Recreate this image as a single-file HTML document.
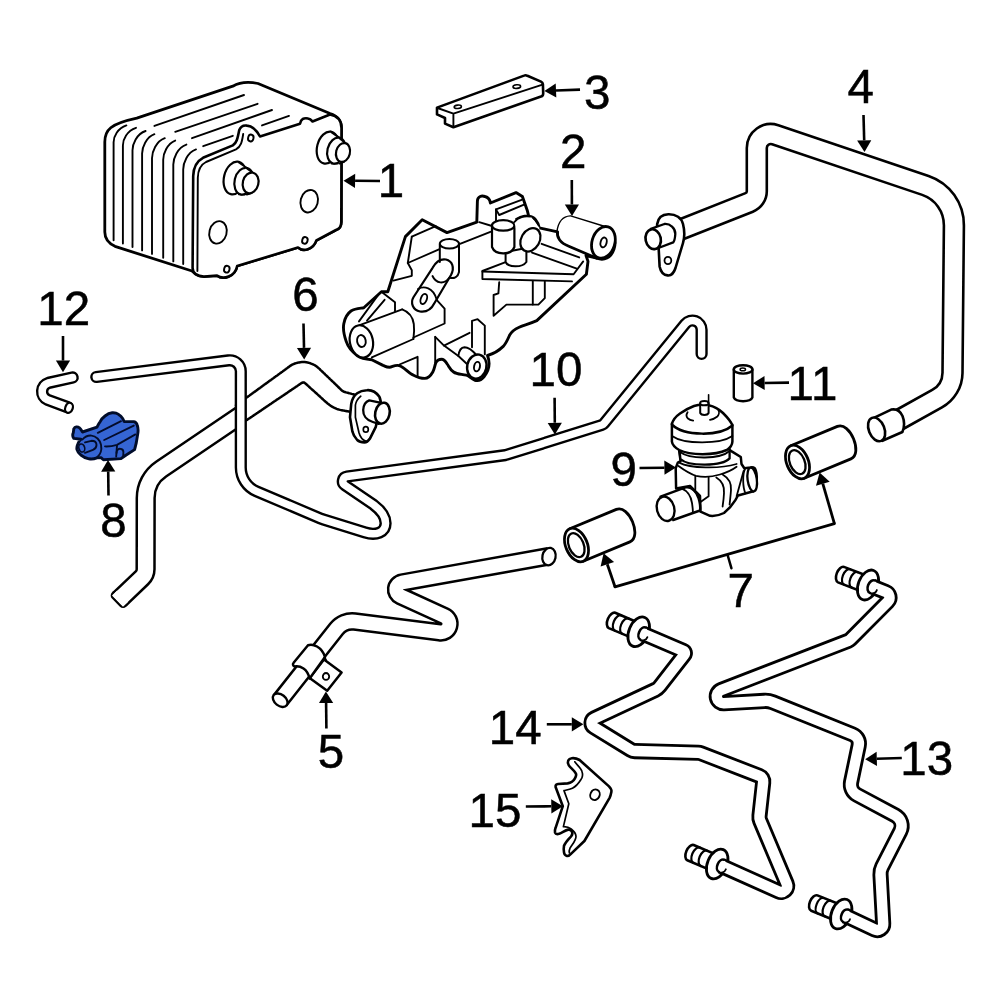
<!DOCTYPE html>
<html><head><meta charset="utf-8"><title>Diagram</title>
<style>
html,body{margin:0;padding:0;background:#fff;}
svg{display:block}
text{font-family:"Liberation Sans",sans-serif;fill:#000}
</style></head><body>
<svg width="1000" height="1000" viewBox="0 0 1000 1000">
<defs><filter id="soft" filterUnits="userSpaceOnUse" x="0" y="0" width="1000" height="1000"><feGaussianBlur stdDeviation="0.4"/></filter></defs>
<rect width="1000" height="1000" fill="#fff"/>
<g filter="url(#soft)">
<path d="M104.8 142 C104.8 130 110 124 136.8 118.2 L232.8 86.2 C240 82 248 81.5 258 83.5 L330 113.5 C338 116 341.5 120 341.5 128 L341.3 222 C341.3 227 339.5 229 336 230 L316.4 240.4 C313 250 303 252 298 247.5 L237.2 266 C235 277 223 280 217 275.6 L204 276.5 C198 276.5 195 274 192 271 L115 246.3 C108 243 104.8 239 104.8 232 Z" fill="#fff" stroke="#000" stroke-width="2.8" stroke-linejoin="round" stroke-linecap="round" /><path d="M126.4 125.4 C117.6 128.4 113.6 136.2 113.6 142.2 L113.6 240.3" fill="none" stroke="#000" stroke-width="1.9" stroke-linejoin="round" stroke-linecap="round" /><path d="M136 127.8 C126.9 130.8 122.9 139.4 122.9 145.4 L122.9 243.6" fill="none" stroke="#000" stroke-width="1.9" stroke-linejoin="round" stroke-linecap="round" /><path d="M145.6 131 C136.5 134 132.5 144.2 132.5 150.2 L132.5 247" fill="none" stroke="#000" stroke-width="1.9" stroke-linejoin="round" stroke-linecap="round" /><path d="M154.4 134.2 C146.1 137.2 142.1 147.4 142.1 153.4 L142.1 250.39999999999998" fill="none" stroke="#000" stroke-width="1.9" stroke-linejoin="round" stroke-linecap="round" /><path d="M164.8 138.2 C156 141.2 152 152.2 152 158.2 L152 253.89999999999998" fill="none" stroke="#000" stroke-width="1.9" stroke-linejoin="round" stroke-linecap="round" /><path d="M175.2 140.6 C167.2 143.6 163.2 153.8 163.2 159.8 L163.2 257.8" fill="none" stroke="#000" stroke-width="1.9" stroke-linejoin="round" stroke-linecap="round" /><path d="M186.4 144.6 C177.3 147.6 173.3 158.6 173.3 164.6 L173.3 261.4" fill="none" stroke="#000" stroke-width="1.9" stroke-linejoin="round" stroke-linecap="round" /><path d="M196 149.4 C187.2 152.4 183.2 163.4 183.2 169.4 L183.2 264.0" fill="none" stroke="#000" stroke-width="1.9" stroke-linejoin="round" stroke-linecap="round" /><path d="M154.4 125.9L244 95" fill="none" stroke="#000" stroke-width="1.9" stroke-linejoin="round" stroke-linecap="round" /><path d="M175.2 131.8L257.6 103.8" fill="none" stroke="#000" stroke-width="1.9" stroke-linejoin="round" stroke-linecap="round" /><path d="M192 138.2L272 110" fill="none" stroke="#000" stroke-width="1.9" stroke-linejoin="round" stroke-linecap="round" /><path d="M203.2 146.2L232.8 135.8" fill="none" stroke="#000" stroke-width="1.9" stroke-linejoin="round" stroke-linecap="round" /><path d="M262 125.4L289 115.9" fill="none" stroke="#000" stroke-width="1.9" stroke-linejoin="round" stroke-linecap="round" /><path d="M192.6 268 L193.2 176 C193.5 166 197 161 203 157.8 L232.8 145.4 C236.5 143 237.5 139 239.2 130.2 C240.5 126.5 244 125.2 247 125.6 C252 126 256 129 260 136.5 L300 123.7 C301 119 304 117.5 308 118.5 C311 119 312 121 312.5 121.5 L330 114.5 C338 116 341.5 120 341.5 128 L341.3 222 C341.3 227 339.5 229 336 230 L316.4 240.4 C313 250 303 252 298 247.5 L237.2 266 C235 277 223 280 217 275.6 L204 276.5 C197 276.5 192.6 273 192.6 268Z" fill="#fff" stroke="#000" stroke-width="2.6" stroke-linejoin="round" stroke-linecap="round" /><path d="M197.4 271 L197.8 178 C198 169 201 164.5 206 162 L236 149.4 C241 146.5 242 142 243.2 134" fill="none" stroke="#000" stroke-width="1.9" stroke-linejoin="round" stroke-linecap="round" /><ellipse cx="250.8" cy="138" rx="2.7" ry="3.4" transform="rotate(15 250.8 138)" fill="#fff" stroke="#000" stroke-width="1.9"/><ellipse cx="304.9" cy="240.4" rx="2.7" ry="3.4" transform="rotate(15 304.9 240.4)" fill="#fff" stroke="#000" stroke-width="1.9"/><ellipse cx="226.8" cy="269.2" rx="2.7" ry="3.4" transform="rotate(15 226.8 269.2)" fill="#fff" stroke="#000" stroke-width="1.9"/><ellipse cx="309.2" cy="201.2" rx="8.6" ry="11.4" transform="rotate(15 309.2 201.2)" fill="#fff" stroke="#000" stroke-width="1.9"/><ellipse cx="218" cy="232.4" rx="8.6" ry="11.4" transform="rotate(15 218 232.4)" fill="#fff" stroke="#000" stroke-width="1.9"/><ellipse cx="234.8" cy="178" rx="10.8" ry="16.6" transform="rotate(14 234.8 178)" fill="#fff" stroke="#000" stroke-width="2.1999999999999997"/><path d="M237.3 161.70000000000002 L246.8 167.6 L246.8 194.79999999999998 L238.8 194.1Z" fill="#fff" stroke="none" stroke-width="0" stroke-linejoin="round" stroke-linecap="round" /><path d="M237.8 161.70000000000002 L247.3 168.2" fill="none" stroke="#000" stroke-width="1.9" stroke-linejoin="round" stroke-linecap="round" /><path d="M238.8 194.29999999999998 L244.8 194.49999999999997" fill="none" stroke="#000" stroke-width="1.9" stroke-linejoin="round" stroke-linecap="round" /><ellipse cx="243.8" cy="181.2" rx="9.2" ry="13.6" transform="rotate(14 243.8 181.2)" fill="#fff" stroke="#000" stroke-width="2.1999999999999997"/><path d="M245.8 167.9 L252.6 172.4 L252.6 193.4 L246.8 194.29999999999998Z" fill="#fff" stroke="none" stroke-width="0" stroke-linejoin="round" stroke-linecap="round" /><path d="M246.3 167.9 L253.1 172.9" fill="none" stroke="#000" stroke-width="1.9" stroke-linejoin="round" stroke-linecap="round" /><path d="M246.8 194.49999999999997 L251.6 193.1" fill="none" stroke="#000" stroke-width="1.9" stroke-linejoin="round" stroke-linecap="round" /><ellipse cx="250.6" cy="182.9" rx="7.8" ry="10.5" transform="rotate(14 250.6 182.9)" fill="#fff" stroke="#000" stroke-width="2.1999999999999997"/><ellipse cx="327.6" cy="147.6" rx="10.5" ry="16.3" transform="rotate(14 327.6 147.6)" fill="#fff" stroke="#000" stroke-width="2.1999999999999997"/><path d="M330.1 131.6 L339.4 137.5 L339.4 163.89999999999998 L331.6 163.4Z" fill="#fff" stroke="none" stroke-width="0" stroke-linejoin="round" stroke-linecap="round" /><path d="M330.6 131.6 L339.9 138.1" fill="none" stroke="#000" stroke-width="1.9" stroke-linejoin="round" stroke-linecap="round" /><path d="M331.6 163.6 L337.4 163.59999999999997" fill="none" stroke="#000" stroke-width="1.9" stroke-linejoin="round" stroke-linecap="round" /><ellipse cx="336.4" cy="150.7" rx="9" ry="13.2" transform="rotate(14 336.4 150.7)" fill="#fff" stroke="#000" stroke-width="2.1999999999999997"/><path d="M338.4 137.8 L345 142.9 L345 162.1 L339.4 163.39999999999998Z" fill="#fff" stroke="none" stroke-width="0" stroke-linejoin="round" stroke-linecap="round" /><path d="M338.9 137.8 L345.5 143.4" fill="none" stroke="#000" stroke-width="1.9" stroke-linejoin="round" stroke-linecap="round" /><path d="M339.4 163.59999999999997 L344 161.79999999999998" fill="none" stroke="#000" stroke-width="1.9" stroke-linejoin="round" stroke-linecap="round" /><ellipse cx="343" cy="152.5" rx="6.9" ry="9.6" transform="rotate(14 343 152.5)" fill="#fff" stroke="#000" stroke-width="2.1999999999999997"/>
<path d="M422.2 219.8 L447 232.6 L476.8 222.2 L477.4 201 C477.6 196 482 195.5 485 196.5 C489 197.5 490 200 490.4 203 L516 192.6 L522.4 196.6 L527.2 210.2 L528.8 216.6 C534 216 538 222 539.2 227.8 L557.6 231.8 C559 222 563 217 570.4 216.6 L604 227 C613 230 617 240 614 249 C611 258 604 261 596.8 258.2 L586 255.5 L588 261.4 L586.4 274.2 L536.8 320.6 C528 324.5 524 325 519.2 327.2 C514 329.5 511.5 331.5 509.6 335.2 C507.5 340 506 343.5 503.2 346.4 C499 350.5 495 353.5 487.5 355.5 C490 362 489.5 370 484 376.8 C481 380.5 477.5 381 474.4 380 C471 378.5 469.5 376 466.4 375.2 C461 374 457 374.5 453.6 372 C450 369.5 449 366.5 447.2 364 C445 360.5 443.5 359.2 441.6 359.2 C438.5 359.2 437 360.5 436 362.4 C434.5 366 434.5 369 432.8 372 C430.5 376 428 378.4 424.8 378.4 C419 378.4 416 376.5 412 374.4 C407 371.5 404 367 399.2 365.6 C395 364.5 392 367.2 389.6 367.2 C386 367.2 385 366 383 365.4 L371.8 359.8 C364 359 360.5 358 357.4 355.8 C351 351 348 347 346.2 341.4 C344 335 342.8 329 343.8 323.8 C345 317 347.5 313.5 351 311 C355 308.5 359 308.5 363.8 307.8 L381.4 291.8 L387.8 291.8 L405.4 236.6 Z" fill="#fff" stroke="#000" stroke-width="2.9" stroke-linejoin="round" stroke-linecap="round" /><path d="M411.8 236.6L435.8 226.2" fill="none" stroke="#000" stroke-width="1.9" stroke-linejoin="round" stroke-linecap="round" /><path d="M411.8 236.6L407.8 263L411.8 270.2L411.8 275.8L393.4 280.6" fill="none" stroke="#000" stroke-width="1.9" stroke-linejoin="round" stroke-linecap="round" /><path d="M407.8 263L439 249.4" fill="none" stroke="#000" stroke-width="1.9" stroke-linejoin="round" stroke-linecap="round" /><path d="M381.4 291.8L395 302.2L395 311" fill="none" stroke="#000" stroke-width="1.9" stroke-linejoin="round" stroke-linecap="round" /><path d="M359 321.4L378.2 295" fill="none" stroke="#000" stroke-width="1.9" stroke-linejoin="round" stroke-linecap="round" /><path d="M367 320.6L384.6 299.8" fill="none" stroke="#000" stroke-width="1.9" stroke-linejoin="round" stroke-linecap="round" /><path d="M359 325.4L402.2 309.4" fill="none" stroke="#000" stroke-width="1.9" stroke-linejoin="round" stroke-linecap="round" /><path d="M371.8 357.4L413.4 339" fill="none" stroke="#000" stroke-width="1.9" stroke-linejoin="round" stroke-linecap="round" /><path d="M402.2 309.4C409 312 413 318 413.8 324C414.5 330 414 335 413.4 339" fill="none" stroke="#000" stroke-width="1.9" stroke-linejoin="round" stroke-linecap="round" /><path d="M435 298.2L444.6 308.6L444.6 323.5L413.4 337.5" fill="none" stroke="#000" stroke-width="1.9" stroke-linejoin="round" stroke-linecap="round" /><path d="M399.5 364.5L417.6 356.8L417.6 376" fill="none" stroke="#000" stroke-width="1.9" stroke-linejoin="round" stroke-linecap="round" /><path d="M435.2 337L435.2 362.4" fill="none" stroke="#000" stroke-width="1.9" stroke-linejoin="round" stroke-linecap="round" /><path d="M435.2 336.8L444 345.6L458.4 356" fill="none" stroke="#000" stroke-width="1.9" stroke-linejoin="round" stroke-linecap="round" /><path d="M444 345.6L469.6 332.8" fill="none" stroke="#000" stroke-width="1.9" stroke-linejoin="round" stroke-linecap="round" /><path d="M472 347.2L472 320.8L477.6 319.2L484.8 325.6L484.8 354.4" fill="none" stroke="#000" stroke-width="1.9" stroke-linejoin="round" stroke-linecap="round" /><path d="M496 221.4L496 209.4L521.6 199.8" fill="none" stroke="#000" stroke-width="1.9" stroke-linejoin="round" stroke-linecap="round" /><path d="M496 209.4L499.2 215L524 204.6" fill="none" stroke="#000" stroke-width="1.9" stroke-linejoin="round" stroke-linecap="round" /><path d="M479.2 222.2L492 226" fill="none" stroke="#000" stroke-width="1.9" stroke-linejoin="round" stroke-linecap="round" /><path d="M447 243.8L460 243.8L490.4 231.8" fill="none" stroke="#000" stroke-width="1.9" stroke-linejoin="round" stroke-linecap="round" /><path d="M505.6 262.2L482.4 271L482.4 279L572 281.4" fill="none" stroke="#000" stroke-width="1.9" stroke-linejoin="round" stroke-linecap="round" /><path d="M482.4 271.5L573.6 274.2L583.2 261.4" fill="none" stroke="#000" stroke-width="1.9" stroke-linejoin="round" stroke-linecap="round" /><path d="M541.6 243.8L579.2 257.4" fill="none" stroke="#000" stroke-width="1.9" stroke-linejoin="round" stroke-linecap="round" /><path d="M532 252.6L576.8 268.6" fill="none" stroke="#000" stroke-width="1.9" stroke-linejoin="round" stroke-linecap="round" /><path d="M499.2 282.2L498.4 293.4L493.6 295L493.6 315.8L506.4 304.6L538.4 304.6L544.8 298.2L544.8 281.4" fill="none" stroke="#000" stroke-width="1.9" stroke-linejoin="round" stroke-linecap="round" /><path d="M532.8 281.4L532.8 304.6" fill="none" stroke="#000" stroke-width="1.9" stroke-linejoin="round" stroke-linecap="round" /><path d="M516 219C522 215 528 215 530.4 216.6" fill="none" stroke="#000" stroke-width="1.9" stroke-linejoin="round" stroke-linecap="round" /><ellipse cx="361.4" cy="341.4" rx="11.5" ry="16.3" transform="rotate(-12 361.4 341.4)" fill="#fff" stroke="#000" stroke-width="2.2"/><ellipse cx="361.4" cy="341" rx="4.3" ry="6" transform="rotate(-10 361.4 341)" fill="#fff" stroke="#000" stroke-width="1.9"/><path d="M432.6 267.8L413.6 297C410 303 413 310 420 311.5C427 312.5 432 308 434.5 303L451 275C455 267 452 261 446 259.5C440 258.5 435.5 262.5 432.6 267.8Z" fill="#fff" stroke="#000" stroke-width="2.2" stroke-linejoin="round" stroke-linecap="round" /><path d="M432.5 276C436 283.5 444 285 449.5 277.5" fill="none" stroke="#000" stroke-width="1.9" stroke-linejoin="round" stroke-linecap="round" /><path d="M418 289C424 285.5 433 287.5 436.5 299" fill="none" stroke="#000" stroke-width="1.9" stroke-linejoin="round" stroke-linecap="round" /><ellipse cx="423.8" cy="299" rx="3" ry="5.3" transform="rotate(20 423.8 299)" fill="#fff" stroke="#000" stroke-width="1.9"/><path d="M439.8 244.6L439.8 262M459 244.6L459 272C458 277 454 278.5 450.5 278" fill="none" stroke="#000" stroke-width="2.0" stroke-linejoin="round" stroke-linecap="round" /><ellipse cx="449.4" cy="243.8" rx="9.6" ry="4.8" transform="rotate(0 449.4 243.8)" fill="#fff" stroke="#000" stroke-width="2.0"/><path d="M505.6 252L505.6 262C508 267.5 522 268 526.4 262L526.4 248Z" fill="#fff" stroke="#000" stroke-width="2.0" stroke-linejoin="round" stroke-linecap="round" /><path d="M492 225.4L492 247C495 255 511 256 514.4 247L514.4 225.4Z" fill="#fff" stroke="#000" stroke-width="2.2" stroke-linejoin="round" stroke-linecap="round" /><ellipse cx="503.2" cy="225.4" rx="11.2" ry="5.3" transform="rotate(0 503.2 225.4)" fill="#fff" stroke="#000" stroke-width="2.2"/><path d="M514.4 222C518 217 526 215.5 531 217L539.5 228L533 250L520 245Z" fill="#fff" stroke="none" stroke-width="0" stroke-linejoin="round" stroke-linecap="round" /><path d="M514.4 222C518 217 525 215.5 530.4 216.6" fill="none" stroke="#000" stroke-width="2.0" stroke-linejoin="round" stroke-linecap="round" /><ellipse cx="530.4" cy="239.8" rx="9.2" ry="12.4" transform="rotate(30 530.4 239.8)" fill="#fff" stroke="#000" stroke-width="2.2"/><path d="M570.4 216.6 L604 227 L596.8 258.2 L568.8 246.2 C560 243 556.5 237 557.6 231.8 C559 222 563 217 570.4 216.6Z" fill="#fff" stroke="none" stroke-width="0" stroke-linejoin="round" stroke-linecap="round" /><path d="M596.8 258.2 L568.8 246.2 C560 243 556.5 237 557.6 231.8" fill="none" stroke="#000" stroke-width="2.8" stroke-linejoin="round" stroke-linecap="round" /><ellipse cx="603.4" cy="242.4" rx="11.4" ry="16.2" transform="rotate(17 603.4 242.4)" fill="#fff" stroke="#000" stroke-width="2.8"/><ellipse cx="603.6" cy="242.4" rx="3" ry="5" transform="rotate(15 603.6 242.4)" fill="#fff" stroke="#000" stroke-width="1.9"/><path d="M458.4 356C459 350.5 461.5 347.4 464.5 347.2C468.5 347.2 472.5 350.5 476.5 355L467.5 364.5Z" fill="#fff" stroke="#000" stroke-width="1.9" stroke-linejoin="round" stroke-linecap="round" /><ellipse cx="476.8" cy="366.6" rx="9.6" ry="12.2" transform="rotate(12 476.8 366.6)" fill="#fff" stroke="#000" stroke-width="2.4"/><ellipse cx="477" cy="366.6" rx="2.9" ry="4.8" transform="rotate(12 477 366.6)" fill="#fff" stroke="#000" stroke-width="1.9"/>
<path d="M437 107.6L524 75.6C525.2 75.1 526.3 75.2 527.4 75.8L541 81.6C542.4 82.3 542.8 83 542.9 84.2L543.2 93.4C543.2 95 542.5 96 541 96.6L453.4 127.2L445 123.6L445 118L437 114.4Z" fill="#fff" stroke="#000" stroke-width="2.6" stroke-linejoin="round" stroke-linecap="round" /><path d="M437.5 108L453.4 113.6L541.8 84.8M453.4 113.6L453.4 127" fill="none" stroke="#000" stroke-width="1.9" stroke-linejoin="round" stroke-linecap="round" /><ellipse cx="457.8" cy="106.8" rx="3.6" ry="1.7" transform="rotate(-5 457.8 106.8)" fill="#fff" stroke="#000" stroke-width="1.6"/><ellipse cx="516.8" cy="86.6" rx="3.8" ry="1.8" transform="rotate(-5 516.8 86.6)" fill="#fff" stroke="#000" stroke-width="1.6"/>
<path d="M246.4 420.3L247.1 419.8L247.8 419.4L248.4 418.9L249.1 418.5L249.8 418.1L250.4 417.6L251.1 417.2L251.8 416.7L252.4 416.3L253.1 415.8L253.8 415.4L254.4 414.9L255.1 414.5L255.7 414.0L256.4 413.6L257.1 413.1L257.7 412.7L258.4 412.2L259.1 411.8L259.7 411.3L260.4 410.9L261.1 410.4L261.7 410.0L262.4 409.5L263.1 409.1L263.7 408.6L264.4 408.2L265.0 407.7L265.7 407.3L266.4 406.8L267.0 406.4L267.7 405.9L268.4 405.5L269.0 405.0L269.7 404.6L270.4 404.1L271.0 403.7L271.7 403.2L272.3 402.8L273.0 402.3L273.7 401.9L274.3 401.4L275.0 401.0L275.7 400.5L276.3 400.1L277.0 399.6L277.7 399.2L278.3 398.8L279.0 398.3L279.7 397.9L280.3 397.4L281.0 397.0L281.6 396.5L282.3 396.1L283.0 395.6L283.6 395.2L284.3 394.7L285.0 394.3L285.6 393.8L286.3 393.4L287.0 392.9L287.6 392.5L288.3 392.0L288.9 391.6L289.6 391.1L290.3 390.7L290.9 390.2L291.6 389.8L292.3 389.3L292.9 388.9L293.6 388.4L294.3 388.0L294.9 387.5L295.6 387.1L296.3 386.6L296.9 386.2L297.6 385.7L298.2 385.3L298.9 384.8L299.6 384.4L300.2 383.9L300.9 383.5L301.4 383.1L301.7 383.0L301.9 382.9L302.0 382.8L302.2 382.8L302.3 382.7L302.5 382.6L302.7 382.6L302.8 382.6L303.0 382.5L303.2 382.5L303.3 382.5L303.5 382.5L303.7 382.5L303.8 382.6L304.0 382.6L304.2 382.6L304.4 382.7L304.5 382.8L304.7 382.9L304.8 383.0L305.0 383.1L305.3 383.4L305.1 383.2L305.7 383.7L306.3 384.3L306.9 384.8L307.5 385.3L308.1 385.9L308.7 386.4L309.3 387.0L309.9 387.5L310.5 388.1L311.1 388.6L311.7 389.2L312.3 389.7L312.9 390.3L313.6 390.8L314.2 391.4L314.8 391.9L315.4 392.5L316.0 393.0L316.6 393.5L317.2 394.1L317.8 394.6L318.4 395.2L319.0 395.7L319.6 396.3L320.2 396.8L320.8 397.4L321.4 397.9L322.0 398.5L322.6 399.0L323.2 399.6L323.8 400.1L324.4 400.7L325.0 401.2L325.6 401.7L326.2 402.2L326.9 402.8L327.5 403.4L328.4 404.1L329.3 404.8L330.3 405.5L331.3 406.2L332.4 406.8L333.4 407.4L334.5 407.9L335.6 408.4L336.7 408.9L337.8 409.3L339.0 409.6L340.2 409.9L341.1 410.1L341.3 410.2L342.1 410.3L342.9 410.4L343.7 410.6L344.5 410.7L345.3 410.9L346.1 411.0L346.9 411.2L347.7 411.3L348.5 411.5L349.3 411.6L350.1 411.8L350.9 411.9L351.7 412.1L352.5 412.2L353.3 412.3L354.1 412.5L357.9 395.5L357.1 395.3L356.3 395.1L355.5 394.9L354.7 394.7L354.0 394.5L353.2 394.3L352.4 394.1L351.6 393.9L350.8 393.6L350.0 393.4L349.2 393.2L348.5 393.0L347.7 392.8L346.9 392.6L346.1 392.4L345.3 392.2L345.5 392.2L344.9 392.1L344.5 391.9L344.1 391.8L343.7 391.6L343.3 391.4L342.9 391.2L342.5 390.9L342.2 390.7L341.8 390.4L341.5 390.2L341.2 389.9L340.9 389.6L340.5 389.2L340.0 388.7L339.4 388.1L338.8 387.5L338.3 387.0L337.7 386.4L337.1 385.8L336.5 385.3L335.9 384.7L335.3 384.1L334.8 383.6L334.2 383.0L333.6 382.4L333.0 381.9L332.4 381.3L331.8 380.8L331.2 380.2L330.6 379.6L330.0 379.1L329.5 378.5L328.9 377.9L328.3 377.4L327.7 376.8L327.1 376.3L326.5 375.7L325.9 375.1L325.3 374.6L324.8 374.0L324.2 373.4L323.6 372.9L323.0 372.3L322.4 371.8L321.8 371.2L321.2 370.6L320.6 370.1L320.1 369.5L319.5 368.9L318.9 368.4L318.7 368.2L317.8 367.4L316.7 366.6L315.5 365.7L314.3 365.0L313.0 364.3L311.7 363.8L310.4 363.3L309.0 362.9L307.6 362.5L306.2 362.3L304.8 362.1L303.3 362.1L301.9 362.1L300.4 362.2L299.0 362.4L297.6 362.7L296.2 363.1L294.9 363.5L293.5 364.1L292.2 364.7L291.0 365.4L289.9 366.1L289.1 366.7L288.5 367.2L287.8 367.6L287.2 368.1L286.6 368.6L285.9 369.1L285.3 369.5L284.6 370.0L284.0 370.5L283.3 370.9L282.7 371.4L282.0 371.9L281.4 372.4L280.7 372.8L280.1 373.3L279.4 373.8L278.8 374.2L278.1 374.7L277.5 375.2L276.8 375.7L276.2 376.1L275.5 376.6L274.9 377.1L274.2 377.5L273.6 378.0L272.9 378.5L272.3 378.9L271.6 379.4L271.0 379.9L270.3 380.4L269.7 380.8L269.0 381.3L268.4 381.8L267.7 382.2L267.1 382.7L266.4 383.2L265.8 383.7L265.1 384.1L264.5 384.6L263.8 385.1L263.2 385.5L262.5 386.0L261.9 386.5L261.3 386.9L260.6 387.4L260.0 387.9L259.3 388.4L258.7 388.8L258.0 389.3L257.4 389.8L256.7 390.2L256.1 390.7L255.4 391.2L254.8 391.7L254.1 392.1L253.5 392.6L252.8 393.1L252.2 393.5L251.5 394.0L250.9 394.5L250.2 394.9L249.6 395.4L248.9 395.9L248.3 396.4L247.6 396.8L247.0 397.3L246.3 397.8L245.7 398.2L245.0 398.7L244.4 399.2L243.7 399.7L243.1 400.1L242.4 400.6L241.8 401.1L241.1 401.5L240.5 402.0L239.8 402.5L239.2 403.0L238.5 403.4L237.9 403.9L237.2 404.4L236.6 404.8L236.0 405.3Z" fill="#fff" stroke="none" stroke-width="0" stroke-linejoin="round" stroke-linecap="round" /><path d="M246.4 420.3L247.1 419.8L247.8 419.4L248.4 418.9L249.1 418.5L249.8 418.1L250.4 417.6L251.1 417.2L251.8 416.7L252.4 416.3L253.1 415.8L253.8 415.4L254.4 414.9L255.1 414.5L255.7 414.0L256.4 413.6L257.1 413.1L257.7 412.7L258.4 412.2L259.1 411.8L259.7 411.3L260.4 410.9L261.1 410.4L261.7 410.0L262.4 409.5L263.1 409.1L263.7 408.6L264.4 408.2L265.0 407.7L265.7 407.3L266.4 406.8L267.0 406.4L267.7 405.9L268.4 405.5L269.0 405.0L269.7 404.6L270.4 404.1L271.0 403.7L271.7 403.2L272.3 402.8L273.0 402.3L273.7 401.9L274.3 401.4L275.0 401.0L275.7 400.5L276.3 400.1L277.0 399.6L277.7 399.2L278.3 398.8L279.0 398.3L279.7 397.9L280.3 397.4L281.0 397.0L281.6 396.5L282.3 396.1L283.0 395.6L283.6 395.2L284.3 394.7L285.0 394.3L285.6 393.8L286.3 393.4L287.0 392.9L287.6 392.5L288.3 392.0L288.9 391.6L289.6 391.1L290.3 390.7L290.9 390.2L291.6 389.8L292.3 389.3L292.9 388.9L293.6 388.4L294.3 388.0L294.9 387.5L295.6 387.1L296.3 386.6L296.9 386.2L297.6 385.7L298.2 385.3L298.9 384.8L299.6 384.4L300.2 383.9L300.9 383.5L301.4 383.1L301.7 383.0L301.9 382.9L302.0 382.8L302.2 382.8L302.3 382.7L302.5 382.6L302.7 382.6L302.8 382.6L303.0 382.5L303.2 382.5L303.3 382.5L303.5 382.5L303.7 382.5L303.8 382.6L304.0 382.6L304.2 382.6L304.4 382.7L304.5 382.8L304.7 382.9L304.8 383.0L305.0 383.1L305.3 383.4L305.1 383.2L305.7 383.7L306.3 384.3L306.9 384.8L307.5 385.3L308.1 385.9L308.7 386.4L309.3 387.0L309.9 387.5L310.5 388.1L311.1 388.6L311.7 389.2L312.3 389.7L312.9 390.3L313.6 390.8L314.2 391.4L314.8 391.9L315.4 392.5L316.0 393.0L316.6 393.5L317.2 394.1L317.8 394.6L318.4 395.2L319.0 395.7L319.6 396.3L320.2 396.8L320.8 397.4L321.4 397.9L322.0 398.5L322.6 399.0L323.2 399.6L323.8 400.1L324.4 400.7L325.0 401.2L325.6 401.7L326.2 402.2L326.9 402.8L327.5 403.4L328.4 404.1L329.3 404.8L330.3 405.5L331.3 406.2L332.4 406.8L333.4 407.4L334.5 407.9L335.6 408.4L336.7 408.9L337.8 409.3L339.0 409.6L340.2 409.9L341.1 410.1L341.3 410.2L342.1 410.3L342.9 410.4L343.7 410.6L344.5 410.7L345.3 410.9L346.1 411.0L346.9 411.2L347.7 411.3L348.5 411.5L349.3 411.6L350.1 411.8L350.9 411.9L351.7 412.1L352.5 412.2L353.3 412.3L354.1 412.5" fill="none" stroke="#000" stroke-width="2.5" stroke-linejoin="round" stroke-linecap="round" /><path d="M236.0 405.3L236.6 404.8L237.2 404.4L237.9 403.9L238.5 403.4L239.2 403.0L239.8 402.5L240.5 402.0L241.1 401.5L241.8 401.1L242.4 400.6L243.1 400.1L243.7 399.7L244.4 399.2L245.0 398.7L245.7 398.2L246.3 397.8L247.0 397.3L247.6 396.8L248.3 396.4L248.9 395.9L249.6 395.4L250.2 394.9L250.9 394.5L251.5 394.0L252.2 393.5L252.8 393.1L253.5 392.6L254.1 392.1L254.8 391.7L255.4 391.2L256.1 390.7L256.7 390.2L257.4 389.8L258.0 389.3L258.7 388.8L259.3 388.4L260.0 387.9L260.6 387.4L261.3 386.9L261.9 386.5L262.5 386.0L263.2 385.5L263.8 385.1L264.5 384.6L265.1 384.1L265.8 383.7L266.4 383.2L267.1 382.7L267.7 382.2L268.4 381.8L269.0 381.3L269.7 380.8L270.3 380.4L271.0 379.9L271.6 379.4L272.3 378.9L272.9 378.5L273.6 378.0L274.2 377.5L274.9 377.1L275.5 376.6L276.2 376.1L276.8 375.7L277.5 375.2L278.1 374.7L278.8 374.2L279.4 373.8L280.1 373.3L280.7 372.8L281.4 372.4L282.0 371.9L282.7 371.4L283.3 370.9L284.0 370.5L284.6 370.0L285.3 369.5L285.9 369.1L286.6 368.6L287.2 368.1L287.8 367.6L288.5 367.2L289.1 366.7L289.9 366.1L291.0 365.4L292.2 364.7L293.5 364.1L294.9 363.5L296.2 363.1L297.6 362.7L299.0 362.4L300.4 362.2L301.9 362.1L303.3 362.1L304.8 362.1L306.2 362.3L307.6 362.5L309.0 362.9L310.4 363.3L311.7 363.8L313.0 364.3L314.3 365.0L315.5 365.7L316.7 366.6L317.8 367.4L318.7 368.2L318.9 368.4L319.5 368.9L320.1 369.5L320.6 370.1L321.2 370.6L321.8 371.2L322.4 371.8L323.0 372.3L323.6 372.9L324.2 373.4L324.8 374.0L325.3 374.6L325.9 375.1L326.5 375.7L327.1 376.3L327.7 376.8L328.3 377.4L328.9 377.9L329.5 378.5L330.0 379.1L330.6 379.6L331.2 380.2L331.8 380.8L332.4 381.3L333.0 381.9L333.6 382.4L334.2 383.0L334.8 383.6L335.3 384.1L335.9 384.7L336.5 385.3L337.1 385.8L337.7 386.4L338.3 387.0L338.8 387.5L339.4 388.1L340.0 388.7L340.5 389.2L340.9 389.6L341.2 389.9L341.5 390.2L341.8 390.4L342.2 390.7L342.5 390.9L342.9 391.2L343.3 391.4L343.7 391.6L344.1 391.8L344.5 391.9L344.9 392.1L345.5 392.2L345.3 392.2L346.1 392.4L346.9 392.6L347.7 392.8L348.5 393.0L349.2 393.2L350.0 393.4L350.8 393.6L351.6 393.9L352.4 394.1L353.2 394.3L354.0 394.5L354.7 394.7L355.5 394.9L356.3 395.1L357.1 395.3L357.9 395.5" fill="none" stroke="#000" stroke-width="2.5" stroke-linejoin="round" stroke-linecap="round" />
<path d="M119.6 599.1L141.9 577.8A12.0 12.0 0 0 0 145.6 569.2L145.7 498.0A35.0 35.0 0 0 1 161.1 469.1L240.5 415.3" fill="none" stroke="#000" stroke-width="20.30" stroke-linecap="butt" stroke-linejoin="round"/><path d="M119.6 599.1L141.9 577.8A12.0 12.0 0 0 0 145.6 569.2L145.7 498.0A35.0 35.0 0 0 1 161.1 469.1L240.5 415.3" fill="none" stroke="#fff" stroke-width="15.30" stroke-linecap="butt" stroke-linejoin="round"/>
<path d="M113.6 592.5L112.9 593.2A3.2 3.2 0 0 0 112.8 597.7L120.8 605.9A3.2 3.2 0 0 0 125.3 605.9L126.0 605.2" fill="#fff" stroke="#000" stroke-width="2.5" stroke-linejoin="round" stroke-linecap="round" /><path d="M117.2 590.5L112.0 595.5L123.0 606.7L128.2 601.7Z" fill="#fff" stroke="none" stroke-width="0" stroke-linejoin="round" stroke-linecap="round" />
<path d="M366.8 390.2C371 389.8 376 392 379.4 396.8C381 400 381 403 380.5 406L375.8 426.8L369.8 438.8C368 441.5 366 442.4 364.4 442.4C361 442.4 358.8 441.5 357.2 440C354.5 437 353 434.5 352.4 431.6L350 417.2L351.2 404C352 399 354 395.5 357.2 393.2C360 391.2 363 390.4 366.8 390.2Z" fill="#fff" stroke="#000" stroke-width="2.6" stroke-linejoin="round" stroke-linecap="round" /><path d="M360.8 396.2C357.5 399 355.8 402 355.4 405.2L355.4 417.2L359 432.8C360 436.5 362.5 440 366 441.2" fill="none" stroke="#000" stroke-width="1.7" stroke-linejoin="round" stroke-linecap="round" /><path d="M369.2 400.4L381.2 402.8L378.8 423.8L372.8 422C366 420 363 415 363.2 410C363.5 405 366 401.5 369.2 400.4Z" fill="#fff" stroke="#000" stroke-width="2.3" stroke-linejoin="round" stroke-linecap="round" /><ellipse cx="382.4" cy="413.2" rx="7.2" ry="10.6" transform="rotate(12 382.4 413.2)" fill="#fff" stroke="#000" stroke-width="2.6"/><ellipse cx="365.8" cy="429.4" rx="2.5" ry="2.7" transform="rotate(0 365.8 429.4)" fill="#fff" stroke="#000" stroke-width="1.7"/>
<path d="M96.3 377.0L228.4 360.4A11.0 11.0 0 0 1 240.8 371.4L240.8 467.5A26.0 26.0 0 0 0 256.6 491.4L320.2 518.3A40.0 40.0 0 0 0 323.8 519.6L364.8 532.4C376.3 536 385.6 532.2 385.6 523.2C385.6 516.2 379.2 509 373.6 504.8L373.6 504.8L344.9 485.2A4.8 4.8 0 0 1 347.0 476.5L505.3 455.1A8.0 8.0 0 0 0 506.6 454.8L601.8 425.0A5.0 5.0 0 0 0 604.1 423.4L685.3 323.9A9.2 9.2 0 0 1 701.6 329.7L701.6 354.0" fill="none" stroke="#000" stroke-width="12.20" stroke-linecap="round" stroke-linejoin="round"/><path d="M96.3 377.0L228.4 360.4A11.0 11.0 0 0 1 240.8 371.4L240.8 467.5A26.0 26.0 0 0 0 256.6 491.4L320.2 518.3A40.0 40.0 0 0 0 323.8 519.6L364.8 532.4C376.3 536 385.6 532.2 385.6 523.2C385.6 516.2 379.2 509 373.6 504.8L373.6 504.8L344.9 485.2A4.8 4.8 0 0 1 347.0 476.5L505.3 455.1A8.0 8.0 0 0 0 506.6 454.8L601.8 425.0A5.0 5.0 0 0 0 604.1 423.4L685.3 323.9A9.2 9.2 0 0 1 701.6 329.7L701.6 354.0" fill="none" stroke="#fff" stroke-width="7.40" stroke-linecap="round" stroke-linejoin="round"/>
<path d="M72.6 377.5L48.5 382.9A9 9 0 0 0 47.4 399.7L67.4 407.1" fill="none" stroke="#000" stroke-width="12.40" stroke-linecap="round" stroke-linejoin="round"/><path d="M72.6 377.5L48.5 382.9A9 9 0 0 0 47.4 399.7L67.4 407.1" fill="none" stroke="#fff" stroke-width="7.60" stroke-linecap="round" stroke-linejoin="round"/>
<ellipse cx="69" cy="407.8" rx="3.7" ry="5.2" transform="rotate(20 69 407.8)" fill="#fff" stroke="#000" stroke-width="2.2"/>
<path d="M677.0 231.0L749.2 202.4A12.0 12.0 0 0 0 756.8 191.2L756.8 147.9A14.0 14.0 0 0 1 775.2 134.7L925.4 185.4A42.0 42.0 0 0 1 953.9 225.6L952.5 372.8A30.0 30.0 0 0 1 937.1 398.7L897.0 421.0" fill="none" stroke="#000" stroke-width="22.60" stroke-linecap="butt" stroke-linejoin="round"/><path d="M677.0 231.0L749.2 202.4A12.0 12.0 0 0 0 756.8 191.2L756.8 147.9A14.0 14.0 0 0 1 775.2 134.7L925.4 185.4A42.0 42.0 0 0 1 953.9 225.6L952.5 372.8A30.0 30.0 0 0 1 937.1 398.7L897.0 421.0" fill="none" stroke="#fff" stroke-width="17.40" stroke-linecap="butt" stroke-linejoin="round"/>
<path d="M668.4 214.2C676 214 681.5 218 683 224C685 232 684.5 238 683 243L675.5 268C673.5 274 670.5 275.8 667.6 275.4C663 274.8 660.5 271 659.6 266.4L658.6 247C657 238 656.5 230 657.2 224C658 218 662 214.4 668.4 214.2Z" fill="#fff" stroke="#000" stroke-width="2.6" stroke-linejoin="round" stroke-linecap="round" /><path d="M650.8 228.8L664.4 224C670 223.5 675.5 228 675.3 234C675 239 674 241.5 673.2 242.4L656.4 248.8Z" fill="#fff" stroke="#000" stroke-width="2.3" stroke-linejoin="round" stroke-linecap="round" /><ellipse cx="653.2" cy="239.2" rx="7.6" ry="10" transform="rotate(-12 653.2 239.2)" fill="#fff" stroke="#000" stroke-width="2.6"/><ellipse cx="667.9" cy="260.5" rx="3.4" ry="3.6" transform="rotate(0 667.9 260.5)" fill="#fff" stroke="#000" stroke-width="1.8"/>
<path d="M874.4 417.6L891.2 409.6C896 408.6 900 410.5 902.5 416C904.5 421 904.5 427 902.4 432L882.4 440.8" fill="#fff" stroke="#000" stroke-width="2.6" stroke-linejoin="round" stroke-linecap="round" />
<ellipse cx="876.6" cy="429.4" rx="7.8" ry="12.4" transform="rotate(-22 876.6 429.4)" fill="#fff" stroke="#000" stroke-width="2.6"/>
<path d="M549.0 556.3L402.0 582.6A7.0 7.0 0 0 0 400.3 595.9L444.2 615.9A8.6 8.6 0 0 1 439.5 632.3L354.6 621.5A20.0 20.0 0 0 0 336.4 629.0L280.0 700.4" fill="none" stroke="#000" stroke-width="18.70" stroke-linecap="butt" stroke-linejoin="round"/><path d="M549.0 556.3L402.0 582.6A7.0 7.0 0 0 0 400.3 595.9L444.2 615.9A8.6 8.6 0 0 1 439.5 632.3L354.6 621.5A20.0 20.0 0 0 0 336.4 629.0L280.0 700.4" fill="none" stroke="#fff" stroke-width="13.70" stroke-linecap="butt" stroke-linejoin="round"/>
<ellipse cx="549" cy="556.6" rx="6.6" ry="8.8" transform="rotate(12 549 556.6)" fill="#fff" stroke="#000" stroke-width="2.3"/>
<ellipse cx="280.2" cy="700.2" rx="8.3" ry="5.6" transform="rotate(38 280.2 700.2)" fill="#fff" stroke="#000" stroke-width="2.4"/>
<path d="M641.9 624.2L615.2 612.8A4.6 8.3 23 0 0 608.8 628.1L635.5 639.4" fill="#fff" stroke="#000" stroke-width="2.6" stroke-linejoin="round" stroke-linecap="round" /><path d="M621.4 615.4A4.6 8.3 23 0 0 614.9 630.7" fill="none" stroke="#000" stroke-width="2.2" stroke-linejoin="round" stroke-linecap="round" /><path d="M628.7 618.5A4.6 8.3 23 0 0 622.2 633.8" fill="none" stroke="#000" stroke-width="2.2" stroke-linejoin="round" stroke-linecap="round" /><ellipse cx="638.7" cy="631.8" rx="9.7" ry="15.6" transform="rotate(23 638.7 631.8)" fill="#fff" stroke="#000" stroke-width="2.8"/>
<path d="M720.4 856.4L693.7 845.0A4.6 8.3 23 0 0 687.3 860.3L714.0 871.6" fill="#fff" stroke="#000" stroke-width="2.6" stroke-linejoin="round" stroke-linecap="round" /><path d="M699.9 847.6A4.6 8.3 23 0 0 693.4 862.9" fill="none" stroke="#000" stroke-width="2.2" stroke-linejoin="round" stroke-linecap="round" /><path d="M707.2 850.7A4.6 8.3 23 0 0 700.7 866.0" fill="none" stroke="#000" stroke-width="2.2" stroke-linejoin="round" stroke-linecap="round" /><ellipse cx="717.2" cy="864" rx="9.7" ry="15.6" transform="rotate(23 717.2 864)" fill="#fff" stroke="#000" stroke-width="2.8"/>
<path d="M642.9 633.6L683.3 650.8A2.5 2.5 0 0 1 684.3 654.7L659.7 686.4A12.0 12.0 0 0 1 655.3 689.9L594.4 718.4A5.0 5.0 0 0 0 593.9 727.2L630.8 749.9A8.0 8.0 0 0 0 634.7 751.1L698.3 752.8A8.0 8.0 0 0 1 701.0 753.3L759.4 775.9A6.0 6.0 0 0 1 763.2 782.2L759.5 815.8A10.0 10.0 0 0 0 760.2 820.8L786.7 883.7A6.0 6.0 0 0 1 778.7 891.5L721.4 865.8" fill="none" stroke="#000" stroke-width="16.10" stroke-linecap="butt" stroke-linejoin="round"/><path d="M642.9 633.6L683.3 650.8A2.5 2.5 0 0 1 684.3 654.7L659.7 686.4A12.0 12.0 0 0 1 655.3 689.9L594.4 718.4A5.0 5.0 0 0 0 593.9 727.2L630.8 749.9A8.0 8.0 0 0 0 634.7 751.1L698.3 752.8A8.0 8.0 0 0 1 701.0 753.3L759.4 775.9A6.0 6.0 0 0 1 763.2 782.2L759.5 815.8A10.0 10.0 0 0 0 760.2 820.8L786.7 883.7A6.0 6.0 0 0 1 778.7 891.5L721.4 865.8" fill="none" stroke="#fff" stroke-width="10.50" stroke-linecap="butt" stroke-linejoin="round"/>
<ellipse cx="642.9343223258812" cy="633.5973631910506" rx="4.4" ry="6.050000000000001" transform="rotate(23 642.9343223258812 633.5973631910506)" fill="#fff" stroke="none" stroke-width="0"/><path d="M645.5 627.5A4.4 6.65 23 0 0 640.3 639.7" fill="none" stroke="#000" stroke-width="2.6" stroke-linejoin="round" stroke-linecap="round" /><path d="M647.4 637.1A3 4.2 23 0 1 644.1 640.2" fill="none" stroke="#000" stroke-width="1.8" stroke-linejoin="round" stroke-linecap="round" />
<ellipse cx="721.4343223258812" cy="865.7973631910506" rx="4.4" ry="6.050000000000001" transform="rotate(23 721.4343223258812 865.7973631910506)" fill="#fff" stroke="none" stroke-width="0"/><path d="M724.0 859.7A4.4 6.65 23 0 0 718.8 871.9" fill="none" stroke="#000" stroke-width="2.6" stroke-linejoin="round" stroke-linecap="round" /><path d="M725.9 869.3A3 4.2 23 0 1 722.6 872.4" fill="none" stroke="#000" stroke-width="1.8" stroke-linejoin="round" stroke-linecap="round" />
<path d="M871.0 577.3L843.9 566.9A4.6 8.3 21 0 0 838.0 582.4L865.0 592.7" fill="#fff" stroke="#000" stroke-width="2.6" stroke-linejoin="round" stroke-linecap="round" /><path d="M850.2 569.3A4.6 8.3 21 0 0 844.2 584.8" fill="none" stroke="#000" stroke-width="2.2" stroke-linejoin="round" stroke-linecap="round" /><path d="M857.5 572.1A4.6 8.3 21 0 0 851.6 587.6" fill="none" stroke="#000" stroke-width="2.2" stroke-linejoin="round" stroke-linecap="round" /><ellipse cx="868" cy="585" rx="9.7" ry="15.6" transform="rotate(21 868 585)" fill="#fff" stroke="#000" stroke-width="2.8"/>
<path d="M844.3 906.3L817.4 895.4A4.6 8.3 22 0 0 811.2 910.8L838.1 921.7" fill="#fff" stroke="#000" stroke-width="2.6" stroke-linejoin="round" stroke-linecap="round" /><path d="M823.6 898.0A4.6 8.3 22 0 0 817.4 913.3" fill="none" stroke="#000" stroke-width="2.2" stroke-linejoin="round" stroke-linecap="round" /><path d="M831.0 900.9A4.6 8.3 22 0 0 824.7 916.3" fill="none" stroke="#000" stroke-width="2.2" stroke-linejoin="round" stroke-linecap="round" /><ellipse cx="841.2" cy="914" rx="9.7" ry="15.6" transform="rotate(22 841.2 914)" fill="#fff" stroke="#000" stroke-width="2.8"/>
<path d="M872.3 586.6L885.7 591.9A6.0 6.0 0 0 1 887.8 601.7L850.4 639.4A6.0 6.0 0 0 1 848.3 640.8L721.0 690.1A6.8 6.8 0 0 0 723.9 703.2L764.2 700.9A20.0 20.0 0 0 1 772.9 702.3L852.6 734.4A10.0 10.0 0 0 1 858.7 745.7L851.1 782.0A12.0 12.0 0 0 0 857.2 795.0L895.3 815.3A12.0 12.0 0 0 1 900.3 831.3L882.1 866.9A15.0 15.0 0 0 0 880.5 874.5L883.2 923.7A6.0 6.0 0 0 1 874.7 929.5L845.5 915.7" fill="none" stroke="#000" stroke-width="16.10" stroke-linecap="butt" stroke-linejoin="round"/><path d="M872.3 586.6L885.7 591.9A6.0 6.0 0 0 1 887.8 601.7L850.4 639.4A6.0 6.0 0 0 1 848.3 640.8L721.0 690.1A6.8 6.8 0 0 0 723.9 703.2L764.2 700.9A20.0 20.0 0 0 1 772.9 702.3L852.6 734.4A10.0 10.0 0 0 1 858.7 745.7L851.1 782.0A12.0 12.0 0 0 0 857.2 795.0L895.3 815.3A12.0 12.0 0 0 1 900.3 831.3L882.1 866.9A15.0 15.0 0 0 0 880.5 874.5L883.2 923.7A6.0 6.0 0 0 1 874.7 929.5L845.5 915.7" fill="none" stroke="#fff" stroke-width="10.50" stroke-linecap="butt" stroke-linejoin="round"/>
<ellipse cx="872.2944699618871" cy="586.6484925679084" rx="4.4" ry="6.050000000000001" transform="rotate(21 872.2944699618871 586.6484925679084)" fill="#fff" stroke="none" stroke-width="0"/><path d="M874.7 580.4A4.4 6.65 21 0 0 869.9 592.9" fill="none" stroke="#000" stroke-width="2.6" stroke-linejoin="round" stroke-linecap="round" /><path d="M876.9 590.0A3 4.2 21 0 1 873.6 593.2" fill="none" stroke="#000" stroke-width="1.8" stroke-linejoin="round" stroke-linecap="round" />
<ellipse cx="845.4650457310073" cy="915.7231903297132" rx="4.4" ry="6.050000000000001" transform="rotate(22 845.4650457310073 915.7231903297132)" fill="#fff" stroke="none" stroke-width="0"/><path d="M848.0 909.6A4.4 6.65 22 0 0 843.0 921.9" fill="none" stroke="#000" stroke-width="2.6" stroke-linejoin="round" stroke-linecap="round" /><path d="M850.0 919.2A3 4.2 22 0 1 846.7 922.3" fill="none" stroke="#000" stroke-width="1.8" stroke-linejoin="round" stroke-linecap="round" />
<path d="M569.8 528.7L616.4 509.4C628.9 504.2 642.4 536.8 629.9 541.9L583.2 561.3Z" fill="#fff" stroke="#000" stroke-width="2.8" stroke-linejoin="round" stroke-linecap="round" /><ellipse cx="576.5" cy="545" rx="10.8" ry="17.6" transform="rotate(-22.5 576.5 545)" fill="#fff" stroke="#000" stroke-width="2.8"/><ellipse cx="576.2228361402466" cy="545.1148050297095" rx="7.4" ry="12.600000000000001" transform="rotate(-22.5 576.2228361402466 545.1148050297095)" fill="#fff" stroke="#000" stroke-width="2.3"/>
<path d="M790.8 445.7L837.4 426.4C849.9 421.2 863.4 453.8 850.9 458.9L804.2 478.3Z" fill="#fff" stroke="#000" stroke-width="2.8" stroke-linejoin="round" stroke-linecap="round" /><ellipse cx="797.5" cy="462" rx="10.8" ry="17.6" transform="rotate(-22.5 797.5 462)" fill="#fff" stroke="#000" stroke-width="2.8"/><ellipse cx="797.2228361402466" cy="462.11480502970954" rx="7.4" ry="12.600000000000001" transform="rotate(-22.5 797.2228361402466 462.11480502970954)" fill="#fff" stroke="#000" stroke-width="2.3"/>
<path d="M733.8 369.4L733.8 397.6C736 402.4 750.2 402.4 752.4 397.6L752.4 369.4Z" fill="#fff" stroke="#000" stroke-width="2.4" stroke-linejoin="round" stroke-linecap="round" />
<ellipse cx="743.1" cy="369.4" rx="9.3" ry="4.2" transform="rotate(0 743.1 369.4)" fill="#fff" stroke="#000" stroke-width="2.4"/>
<ellipse cx="742.8" cy="369.4" rx="2.7" ry="1.3" transform="rotate(0 742.8 369.4)" fill="#fff" stroke="#000" stroke-width="1.5"/>
<path d="M73.8 428.8C75 426.5 77.5 426.3 79.5 427.8C81.5 429.3 81.5 431 82.5 432L97 427.2C98.5 424 99 423 100.2 421.6C101.5 419 103 417.5 105 416C107.5 414 109.5 413 112.2 412.8C115 412.6 117 413.3 118.6 414.4C120.5 415.5 121.8 417 122.6 418.4L124.2 421.6L133.8 421.6C136 422 137 423.5 137.3 425.6C138.3 428 138.2 431 137.8 433.6L136.2 443.2L134.6 449.6L125.8 455.2L121 458.6L103.4 459.8L101 457.6L97 457.8C94 459 91.5 459.2 89 458.8C86 458.2 83 457 81 455.2C79 453.5 77.5 451.5 77 449.6C76.5 447.5 77 446 77.8 444C78.5 442 79.5 440.5 81 439.2L73.8 438.4C72.5 436.5 72.5 435 73 433.6C73.6 432.5 73.5 430.5 73.8 428.8Z" fill="#3665d3" stroke="#050b2c" stroke-width="2.9" stroke-linejoin="round" stroke-linecap="round" /><path d="M82.5 439.5C85 436.5 88.5 435.4 91.4 435.6C96 436 100 440 101 444.8C102 450 100 455 97 457.5" fill="none" stroke="#050b2c" stroke-width="1.9" stroke-linejoin="round" stroke-linecap="round" /><path d="M85 442.4L91.4 440.8C94.5 440.8 96.5 442.5 96.5 445C96.5 447.5 95 449 93 449.8L85 452.8" fill="none" stroke="#050b2c" stroke-width="1.9" stroke-linejoin="round" stroke-linecap="round" /><path d="M97.8 432.8L121 421.2" fill="none" stroke="#050b2c" stroke-width="1.9" stroke-linejoin="round" stroke-linecap="round" /><path d="M104.2 440L133.8 425.6" fill="none" stroke="#050b2c" stroke-width="1.9" stroke-linejoin="round" stroke-linecap="round" /><path d="M105 446.4C109 446.6 113 446 117 444.8L135.4 434.4" fill="none" stroke="#050b2c" stroke-width="1.9" stroke-linejoin="round" stroke-linecap="round" /><path d="M117 445.6L116.2 456.5" fill="none" stroke="#050b2c" stroke-width="1.9" stroke-linejoin="round" stroke-linecap="round" /><path d="M116.5 452.8C116.8 450 118.5 448.6 120.2 448.8C122.5 449 123.4 450.5 123.4 452L123.2 457" fill="none" stroke="#050b2c" stroke-width="1.9" stroke-linejoin="round" stroke-linecap="round" /><ellipse cx="81.8" cy="448" rx="2.9" ry="4.1" transform="rotate(-15 81.8 448)" fill="#3665d3" stroke="#050b2c" stroke-width="1.6"/>
<path d="M571.8 758.2C575 757.8 577.5 758.8 579.6 760L609 786.4C611 788.5 611.8 790 611.4 791.8C611 794 610.5 796 609.6 797.8L584.4 841L571.2 853.6C569.5 855.5 568.2 856.2 567 856C565.2 855.5 564.2 854 564 852.4C563.6 850 563.6 848 564 845.8C565.5 842 569 839 571.2 836.2C572.5 834.5 572.5 832.5 571.8 831.4C571 830 569.5 829.5 568.2 829.6C565 830.2 562 833 559.2 833.8C557.3 834.3 555.5 834 555 832.6C554.5 831 555 829.3 555.6 827.8L562.8 806.2L555.6 787C555.3 785.2 556.2 784.2 558 784L567.6 783.4C571 782.8 573.5 781 574.8 778.6C576 776.5 576.5 775 576 773.8C574.5 770.5 570.5 768 568.8 765.4C567.8 763.8 567.6 762 568.2 760.6C568.8 759.2 570 758.4 571.8 758.2Z" fill="#fff" stroke="#000" stroke-width="2.6" stroke-linejoin="round" stroke-linecap="round" /><path d="M574.8 761.8C577 765 581 768 582 771.4C583 774.5 582.5 777.5 580.8 779.8C578.5 783.5 575.5 786.8 572.4 788.2C569.5 789.5 566.5 790 564 790.6L568.8 803.8L563.4 826.6C566 826.5 569 827.2 571.2 829C573.8 831 575.8 833.5 576 836.2C576.2 840.5 572 844.5 570 848.2C569.2 850 569 851.5 569.4 853" fill="none" stroke="#000" stroke-width="1.7" stroke-linejoin="round" stroke-linecap="round" /><ellipse cx="595" cy="794.8" rx="4.6" ry="5.4" transform="rotate(25 595 794.8)" fill="#fff" stroke="#000" stroke-width="1.9"/>
<path d="M324 659.6L341.6 672.4L327.2 690.8L309.6 678Z" fill="#fff" stroke="#000" stroke-width="2.5" stroke-linejoin="round" stroke-linecap="round" /><ellipse cx="326" cy="676.4" rx="3.2" ry="3.4" transform="rotate(0 326 676.4)" fill="#fff" stroke="#000" stroke-width="1.8"/><path d="M308 645.2C311 644.3 314 644.8 317 646.5C320.5 648.5 323.5 652 325 657L309.6 678.5C308.5 674 306.5 670.5 303.5 668.5C300.5 666.5 297 666 294.5 666.5C292.8 665.5 292.5 664 293.6 662.8Z" fill="#fff" stroke="#000" stroke-width="2.5" stroke-linejoin="round" stroke-linecap="round" /><path d="M324.5 657.5L326 660.5" fill="none" stroke="#000" stroke-width="2.2" stroke-linejoin="round" stroke-linecap="round" />
<path d="M660.5 496.6L686.2 487.1L700 492L700.5 510L673.2 520Z" fill="#fff" stroke="none" stroke-width="0" stroke-linejoin="round" stroke-linecap="round" /><path d="M679.2 451L680.6 461.2L677.8 462.6L675.7 468.2L676.1 488.5L690 486L700 496L700.5 511.6L710 515.8C716 516.5 720 515 724 513C729 509 733 504 735.2 500.4L738 495.5L753.4 491.3C757 487 758 474 755 468.5C753.5 467.3 752 467.2 750.6 467.5L744.3 468.2L741.5 464L740.8 457L731.7 451.4L729.6 450Z" fill="#fff" stroke="#000" stroke-width="2.5" stroke-linejoin="round" stroke-linecap="round" /><ellipse cx="752.2" cy="479.6" rx="4.6" ry="12" transform="rotate(-8 752.2 479.6)" fill="#fff" stroke="#000" stroke-width="2.3"/><path d="M745 469C742.5 474 742.5 487 745.5 493.4" fill="none" stroke="#000" stroke-width="1.8" stroke-linejoin="round" stroke-linecap="round" /><path d="M679.2 462.6C690 468.5 720 469 736.6 464" fill="none" stroke="#000" stroke-width="1.8" stroke-linejoin="round" stroke-linecap="round" /><path d="M678.5 466C684 470 690 474 696 475.8C703 477.5 712 477 720 474.5C727 472.5 733 469.5 736.6 466.8" fill="none" stroke="#000" stroke-width="1.8" stroke-linejoin="round" stroke-linecap="round" /><path d="M695.3 476.6L695.3 489.5M708.6 477.5L708.6 496.2L700.5 502" fill="none" stroke="#000" stroke-width="1.8" stroke-linejoin="round" stroke-linecap="round" /><path d="M716.3 477.5C722 481 724.5 487 724 493C723.8 498 723.3 502 722.6 506.5M722.6 474.5C728.5 478 731.5 484 731 490C730.7 495 730 500 729.6 504.6M743.6 471L736.6 496.2" fill="none" stroke="#000" stroke-width="1.8" stroke-linejoin="round" stroke-linecap="round" /><path d="M660.5 496.6L686.2 487.1C692 487.5 696.5 492 698.5 498C700 503 700.5 507 700 510.5L673.2 520" fill="none" stroke="#000" stroke-width="2.4" stroke-linejoin="round" stroke-linecap="round" /><path d="M682 488.7C687.5 491 691 497 692 503C692.6 507 693 510.5 692.8 512.7" fill="none" stroke="#000" stroke-width="1.8" stroke-linejoin="round" stroke-linecap="round" /><ellipse cx="665.6" cy="508.8" rx="8.7" ry="12.4" transform="rotate(-15 665.6 508.8)" fill="#fff" stroke="#000" stroke-width="2.4"/><path d="M679.5 449L680.4 459C688 466.5 722 466.5 729.6 458.4L729.6 449Z" fill="#fff" stroke="#000" stroke-width="2.3" stroke-linejoin="round" stroke-linecap="round" /><path d="M680 452C690 459.5 720 459.5 729.6 451" fill="none" stroke="#000" stroke-width="1.8" stroke-linejoin="round" stroke-linecap="round" /><path d="M671.9 423.4L671.9 441.6C672.2 444 675 447.5 679.2 450C690 455.5 715 455.5 726.8 450C730 448 732.2 445 732.4 441.6L732.4 424.8Z" fill="#fff" stroke="#000" stroke-width="2.5" stroke-linejoin="round" stroke-linecap="round" /><path d="M672 436C684 444.5 720 444.5 732.4 436" fill="none" stroke="#000" stroke-width="1.8" stroke-linejoin="round" stroke-linecap="round" /><path d="M671.9 424.5C672.5 420 675 417 680 413.5C685 410 690 407.5 694 406C698 404.7 703 404.3 708.6 405.2C714 406.3 719 409 723 413C727 417 731 421 732.4 425.5C720 436.5 684 436.5 671.9 424.5Z" fill="#fff" stroke="#000" stroke-width="2.5" stroke-linejoin="round" stroke-linecap="round" /><path d="M687.6 412.2C686 414.5 686.3 416.8 688 418.5C689.5 419.8 691.5 420.3 693.2 420.6M718.4 410.1C719.5 412 719 415 717 416.8C715 418.5 712.5 419.5 710 419.9" fill="none" stroke="#000" stroke-width="1.8" stroke-linejoin="round" stroke-linecap="round" /><path d="M700.2 403.2L700.2 413C701.5 415.6 707.3 415.6 708.6 413L708.6 403.2Z" fill="#fff" stroke="#000" stroke-width="2.0" stroke-linejoin="round" stroke-linecap="round" /><ellipse cx="704.4" cy="403.2" rx="4.2" ry="2.1" transform="rotate(0 704.4 403.2)" fill="#fff" stroke="#000" stroke-width="2.0"/><path d="M708.6 394.7L708.6 402.5" fill="none" stroke="#000" stroke-width="1.6" stroke-linejoin="round" stroke-linecap="round" />
<text x="377.8" y="197.3" font-size="47.5" fill="#000" stroke="#000" stroke-width="0.5">1</text>
<text x="560" y="168" font-size="47.5" fill="#000" stroke="#000" stroke-width="0.5">2</text>
<text x="584" y="108.7" font-size="47.5" fill="#000" stroke="#000" stroke-width="0.5">3</text>
<text x="847.4" y="103" font-size="47.5" fill="#000" stroke="#000" stroke-width="0.5">4</text>
<text x="317.8" y="768.3" font-size="47.5" fill="#000" stroke="#000" stroke-width="0.5">5</text>
<text x="292.2" y="311" font-size="47.5" fill="#000" stroke="#000" stroke-width="0.5">6</text>
<text x="727.5" y="607.2" font-size="47.5" fill="#000" stroke="#000" stroke-width="0.5">7</text>
<text x="100.2" y="536.6" font-size="47.5" fill="#000" stroke="#000" stroke-width="0.5">8</text>
<text x="610.5" y="485.6" font-size="47.5" fill="#000" stroke="#000" stroke-width="0.5">9</text>
<text x="529.5 555.92" y="385.8" font-size="47.5" fill="#000" stroke="#000" stroke-width="0.5">10</text>
<text x="787.5 810.92" y="400" font-size="47.5" fill="#000" stroke="#000" stroke-width="0.5">11</text>
<text x="37.3 63.72" y="325" font-size="47.5" fill="#000" stroke="#000" stroke-width="0.5">12</text>
<text x="900.3 926.72" y="775.4" font-size="47.5" fill="#000" stroke="#000" stroke-width="0.5">13</text>
<text x="488.8 515.22" y="743.9" font-size="47.5" fill="#000" stroke="#000" stroke-width="0.5">14</text>
<text x="468.5 494.92" y="826.5" font-size="47.5" fill="#000" stroke="#000" stroke-width="0.5">15</text>
<path d="M380.0 181.0L355.1 180.8" stroke="#000" stroke-width="2.6" fill="none"/><path d="M343.5 180.7L355.2 173.7L355.0 187.9Z" fill="#000"/>
<path d="M571.8 180.0L571.9 204.4" stroke="#000" stroke-width="2.6" fill="none"/><path d="M572.0 216.0L564.8 204.4L579.0 204.4Z" fill="#000"/>
<path d="M580.0 89.6L556.0 90.5" stroke="#000" stroke-width="2.6" fill="none"/><path d="M544.4 91.0L555.7 83.4L556.3 97.6Z" fill="#000"/>
<path d="M863.5 115.0L864.2 140.4" stroke="#000" stroke-width="2.6" fill="none"/><path d="M864.5 152.0L857.1 140.6L871.3 140.2Z" fill="#000"/>
<path d="M326.4 728.6L326.1 703.0" stroke="#000" stroke-width="2.6" fill="none"/><path d="M325.9 691.4L333.2 702.9L319.0 703.1Z" fill="#000"/>
<path d="M303.5 323.5L304.0 347.9" stroke="#000" stroke-width="2.6" fill="none"/><path d="M304.2 359.5L296.9 348.0L311.1 347.8Z" fill="#000"/>
<path d="M108.5 495.5L108.2 471.6" stroke="#000" stroke-width="2.6" fill="none"/><path d="M108.0 460.0L115.3 471.5L101.1 471.7Z" fill="#000"/>
<path d="M639.5 468.0L664.4 467.7" stroke="#000" stroke-width="2.6" fill="none"/><path d="M676.0 467.5L664.5 474.8L664.3 460.6Z" fill="#000"/>
<path d="M554.6 397.8L554.8 422.8" stroke="#000" stroke-width="2.6" fill="none"/><path d="M554.9 434.4L547.7 422.9L561.9 422.7Z" fill="#000"/>
<path d="M789.0 382.6L764.6 383.0" stroke="#000" stroke-width="2.6" fill="none"/><path d="M753.0 383.2L764.5 375.9L764.7 390.1Z" fill="#000"/>
<path d="M63.0 336.0L63.0 360.6" stroke="#000" stroke-width="2.6" fill="none"/><path d="M63.0 372.2L55.9 360.6L70.1 360.6Z" fill="#000"/>
<path d="M901.8 758.0L876.8 758.8" stroke="#000" stroke-width="2.6" fill="none"/><path d="M865.2 759.2L876.6 751.7L877.0 765.9Z" fill="#000"/>
<path d="M546.8 724.3L571.8 724.3" stroke="#000" stroke-width="2.6" fill="none"/><path d="M583.4 724.3L571.8 731.4L571.8 717.2Z" fill="#000"/>
<path d="M525.8 806.5L551.3 806.3" stroke="#000" stroke-width="2.6" fill="none"/><path d="M562.9 806.2L551.4 813.4L551.2 799.2Z" fill="#000"/>
<path d="M615 586.8L834.4 523.6" fill="none" stroke="#000" stroke-width="2.8" stroke-linejoin="round" stroke-linecap="round" /><path d="M727.6 555L731.4 568.2" fill="none" stroke="#000" stroke-width="2.5" stroke-linejoin="round" stroke-linecap="round" />
<path d="M615.0 586.8L607.3 564.2" stroke="#000" stroke-width="2.8" fill="none"/><path d="M603.6 553.2L614.1 561.9L600.6 566.5Z" fill="#000"/>
<path d="M834.4 523.6L822.8 483.7" stroke="#000" stroke-width="2.8" fill="none"/><path d="M819.6 472.6L829.7 481.8L816.0 485.7Z" fill="#000"/>
</g>
</svg>
</body></html>
